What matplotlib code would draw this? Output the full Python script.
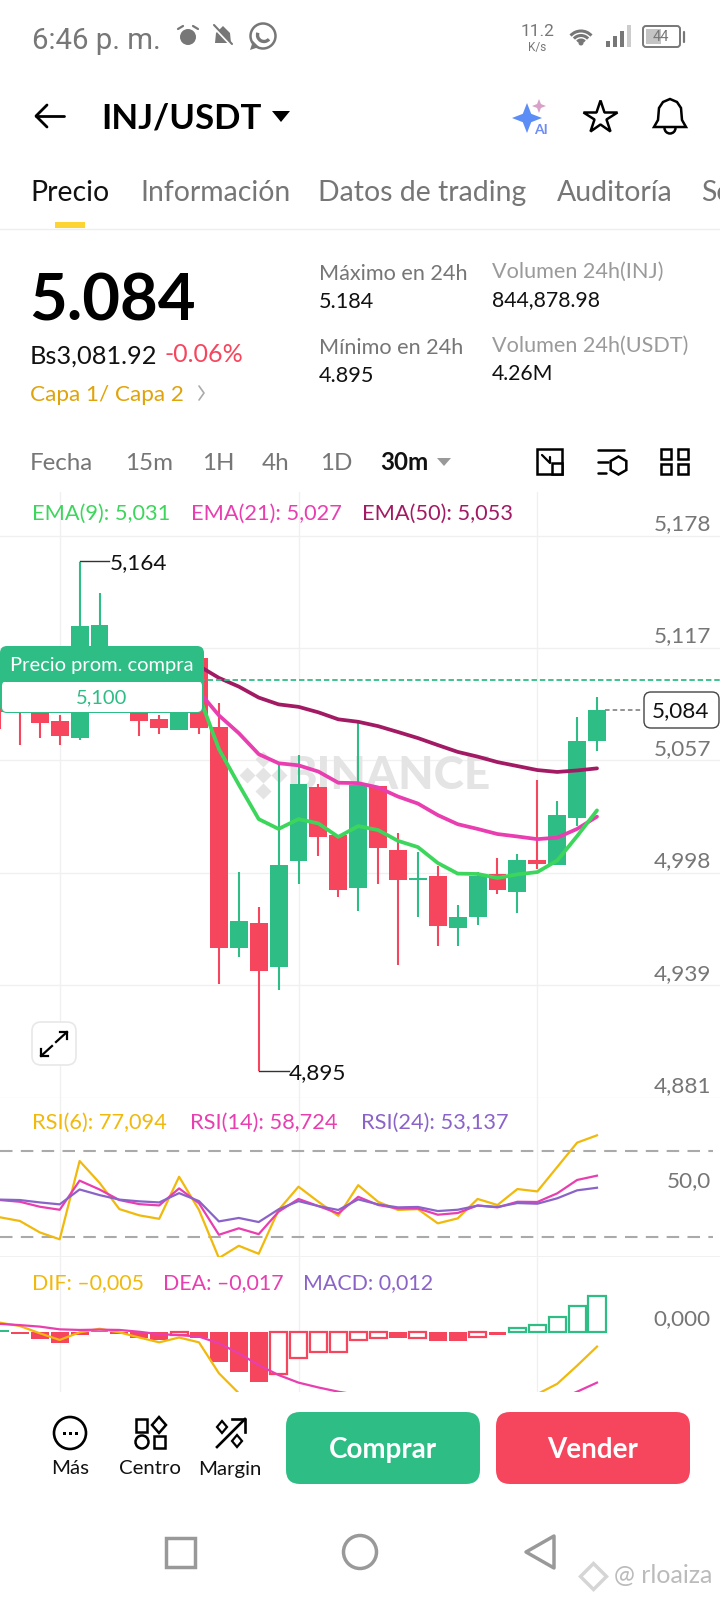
import matplotlib
matplotlib.use("Agg")
import matplotlib.pyplot as plt
from matplotlib.patches import Rectangle, FancyBboxPatch, Circle, Polygon, Arc

plt.rcParams['font.family'] = ['Lato', 'DejaVu Sans']

# candles, one row per 30m slot (the ones behind the "Precio prom." box are guesses)
opens  = [5090, 5092, 5085, 5079.8, 5071, 5103.8, 5093, 5090, 5080.9, 5075.2, 5113.2, 5077.1, 4960.3, 4973.3, 4950.3, 5006.1, 5044.9, 5019.9, 4991.7, 5045.8, 5011.9, 4995.8, 4998.3, 4970.6, 4976.4, 4999.4, 4989.6, 5006.7, 5004, 5029, 5069.2]
closes = [5085, 5088, 5079, 5072.1, 5130.4, 5131, 5097, 5080, 5076.1, 5090, 5076.1, 4960.3, 4974.3, 4948.2, 5004, 5047, 5018.8, 4990.6, 5046.4, 5013, 4995.8, 4997.3, 4971.6, 4976.4, 4998.3, 4990.6, 5006.7, 5004.6, 5030.1, 5069.2, 5085.9]
highs  = [5095, 5096, 5090, 5083, 5164, 5147.7, 5100, 5094, 5083, 5092, 5113.2, 5089.6, 5000, 4981.6, 5056.8, 5062.1, 5047, 5019.9, 5079.6, 5045.8, 5020.9, 5010.9, 5003.6, 4983, 5000.4, 5007.7, 5009.8, 5048.9, 5038, 5081.9, 5092.8]
lows   = [5076, 5067.3, 5071, 5067.3, 5070, 5100, 5090, 5072.1, 5072.9, 5075.2, 5072.9, 4940.9, 4955.5, 4895, 4937.8, 4993.7, 5008.8, 4986.9, 4979.5, 4993.7, 4951.3, 4976.4, 4961.4, 4961.4, 4972.2, 4988.5, 4978.5, 5001.9, 5004, 5024.5, 5064.1]

ema_x = list(range(10, 31))
ema9  = [5093.4, 5065.2, 5046.4, 5028.2, 5023, 5028.2, 5025.9, 5018.8, 5024.5, 5022.4, 5016.7, 5013.4, 5005, 4999.4, 4999.2, 4997.1, 4999, 5000.2, 5006.3, 5019.2, 5032.8]
ema21 = [5095.5, 5083, 5073.6, 5062.5, 5057.7, 5056.6, 5053.3, 5047.4, 5047.2, 5044.9, 5040.1, 5036.4, 5030.3, 5025.5, 5023, 5020.3, 5019, 5017.6, 5018.4, 5023, 5029.5]
ema50 = [5109.1, 5102.8, 5098.2, 5092.4, 5088.8, 5087.5, 5084.6, 5080.9, 5079.6, 5077.3, 5074.2, 5071, 5067.3, 5063.7, 5061.2, 5058.3, 5056.2, 5054.1, 5053.1, 5053.9, 5055]

price_ticks = [5178, 5118.6, 5059.2, 4999.8, 4940.4, 4881]
price_labels = ["5,178", "5,117", "5,057", "4,998", "4,939", "4,881"]
avg_price = 5101.8
last_price = 5085.9

rsi6  = [39.3, 37.6, 32.3, 29.1, 65.4, 55.3, 43.1, 40.2, 38.6, 58.1, 42.7, 20.4, 26.1, 22.4, 42.7, 53.5, 46.5, 40.0, 54.2, 46.5, 42.7, 43.1, 36.5, 38.8, 47.8, 45.0, 52.4, 51.3, 62.6, 73.9, 77.3]
rsi14 = [47.3, 46.5, 44.2, 42.8, 56.3, 52.2, 47.3, 45.4, 44.8, 52.7, 45.8, 31.2, 34.2, 31.5, 41.9, 47.8, 44.5, 41.1, 48.8, 45.0, 43.4, 43.4, 40.5, 41.3, 44.8, 43.9, 46.5, 46.4, 50.4, 56.6, 58.6]
rsi24 = [47.5, 47.3, 46.2, 45.3, 52.2, 49.6, 47.5, 46.7, 46.2, 50.5, 46.8, 37.4, 39.0, 37.1, 43.0, 46.8, 44.5, 42.7, 47.6, 45.3, 43.9, 44.1, 42.2, 42.8, 44.7, 44.1, 45.9, 45.6, 48.1, 51.8, 53.0]

hist = [0.0007, -0.0007, -0.0022, -0.0034, -0.0009, 0.0003, -0.0007, -0.0018, -0.0025, -0.0009, -0.002, -0.0097, -0.013, -0.0163, -0.0138, -0.0086, -0.0066, -0.0066, -0.0025, -0.0018, -0.0019, -0.002, -0.0029, -0.003, -0.0015, -0.001, 0.0014, 0.0025, 0.005, 0.0088, 0.012]
hollow = [0, 0, 0, 0, 0, 0, 0, 0, 0, 1, 0, 0, 0, 0, 1, 1, 1, 1, 1, 1, 0, 1, 0, 0, 1, 0, 1, 1, 1, 1, 1]
dif = [.0032, .0021, -.0003, -.0025, 0, .0012, 0, -.0017, -.0033, -.0017, -.0033, -.0135, -.0201, -.0268, -.0312, -.0334, -.0345, -.0350, -.0334, -.0323, -.0312, -.0306, -.0312, -.0317, -.0301, -.0279, -.0246, -.0204, -.0170, -.0110, -.0047]
dea = [.0028, .0024, .0019, .0010, .0008, .0009, .0008, .0002, -.0006, -.0009, -.0014, -.0036, -.0069, -.0108, -.0141, -.0166, -.0182, -.0196, -.0207, -.0218, -.0227, -.0235, -.0243, -.0251, -.0257, -.0259, -.0257, -.0246, -.0224, -.0196, -.0166]

GREEN = "#2EBD85"
RED = "#F6465D"
YEL = "#F0B90B"
MAG = "#E93EB0"
PUR = "#8A63C9"
GRID = "#F0F0F0"
GREY = "#767676"
SLOT = 19.9
W = 720.0
H = 1600.0

fig = plt.figure(figsize=(7.2, 16), dpi=100, facecolor="white")


def panel(top, bottom, ylim):
    a = fig.add_axes([0, 1 - bottom / H, 1, (bottom - top) / H], zorder=2)
    a.patch.set_alpha(0)
    a.set_xlim(0, W / SLOT)
    a.set_ylim(*ylim)
    a.set_xticks([3, 15, 27])
    a.tick_params(left=False, bottom=False, labelleft=False, labelbottom=False)
    a.grid(True, axis="x", color=GRID, lw=1)
    for s in a.spines.values():
        s.set_visible(False)
    return a


# price panel
ax = panel(492, 1098, (4880.85, 5201))
ax.set_yticks(price_ticks)
ax.grid(True, axis="y", color=GRID, lw=1)
ax.set_axisbelow(True)
# watermark goes under the candles
ax.text(389 / W, 1 - 776 / H, "BINANCE", transform=fig.transFigure, ha="center", va="center", fontsize=33, fontweight="black", color="#E4E4E4", zorder=1)
for dx, dy in ((0, -16), (-16, 0), (16, 0), (0, 16), (0, 0)):
    ax.plot([(263 + dx) / W], [1 - (775 + dy) / H], transform=fig.transFigure, marker="D", ms=8.5, color="#E4E4E4", mec="none", zorder=1)
for i in range(len(opens)):
    c = GREEN if closes[i] >= opens[i] else RED
    ax.vlines(i, lows[i], highs[i], color=c, lw=1.5, zorder=3)
    ax.bar(i, abs(closes[i] - opens[i]), bottom=min(opens[i], closes[i]), width=0.9, color=c, zorder=3)
ax.plot(ema_x, ema50, color="#A21A63", lw=2.7, zorder=4, solid_capstyle="round")
ax.plot(ema_x, ema21, color=MAG, lw=2.7, zorder=4, solid_capstyle="round")
ax.plot(ema_x, ema9, color="#3DD65C", lw=2.7, zorder=4, solid_capstyle="round")
ax.axhline(avg_price, color=GREEN, lw=1.3, ls=(0, (3, 1.6)), zorder=4)
ax.plot([4, 5.5], [5164.4, 5164.4], color="#333333", lw=1)
ax.plot([13, 14.5], [4895, 4895], color="#333333", lw=1)
ax.annotate("5,164", (5.5, 5164.4), xytext=(0, -1), textcoords="offset points", fontsize=16.2, va="center", color="#111111")
ax.annotate("4,895", (14.5, 4895), xytext=(0, -1), textcoords="offset points", fontsize=16.2, va="center", color="#111111")
ax.plot([30.4, 32.3], [last_price, last_price], color="#777777", lw=1.1, ls=(0, (3, 2)))
for v, s in zip(price_ticks, price_labels):
    ax.annotate(s, (711 / SLOT, v), xytext=(0, 1), textcoords="offset points", ha="right", va="bottom", fontsize=16.2, color=GREY)

# RSI
ax2 = panel(1098, 1257, (20.9, 94.6))
ax2.set_yticks([20.9])
ax2.grid(True, axis="y", color=GRID, lw=2)
ax2.plot([0, 713 / SLOT], [70, 70], color="#AAAAAA", lw=1.5, ls=(0, (6, 4)))
ax2.plot([0, 713 / SLOT], [30, 30], color="#AAAAAA", lw=1.5, ls=(0, (6, 4)))
ax2.plot(rsi6, color=YEL, lw=1.6)
ax2.plot(rsi14, color=MAG, lw=1.6)
ax2.plot(rsi24, color=PUR, lw=1.6)
ax2.annotate("50,0", (711 / SLOT, 50), xytext=(0, 2), textcoords="offset points", ha="right", va="bottom", fontsize=16.2, color=GREY)

# MACD
ax3 = panel(1257, 1392, (-.0197, .0249))
for i, v in enumerate(hist):
    c = GREEN if v > 0 else RED
    if hollow[i]:
        ax3.bar(i, v, width=0.86, facecolor="white", edgecolor=c, lw=1.6, zorder=3)
    else:
        ax3.bar(i, v, width=0.9, color=c, zorder=3)
ax3.plot(dif, color=YEL, lw=1.6, zorder=4)
ax3.plot(dea, color=MAG, lw=1.6, zorder=4)
ax3.annotate("0,000", (711 / SLOT, 0), xytext=(0, 2.5), textcoords="offset points", ha="right", va="bottom", fontsize=16.2, color=GREY)

# everything around the chart, in screen pixels
ui = fig.add_axes([0, 0, 1, 1], zorder=5)
ui.set_xlim(0, W)
ui.set_ylim(H, 0)
ui.axis("off")


def txt(x, y, s, size, color="#111111", ha="left", weight="normal", **kw):
    ui.text(x, y + 4, s, fontsize=size, color=color, ha=ha, va="center", fontweight=weight, **kw)


def line(xs, ys, color="black", lw=1.8):
    ui.plot(xs, ys, color=color, lw=lw, solid_capstyle="round", solid_joinstyle="round")


def rbox(x, y, w, h, r, fc="white", ec="none", lw=1, z=6):
    ui.add_patch(FancyBboxPatch((x + r, y + r), w - 2 * r, h - 2 * r, boxstyle="round,pad=%f,rounding_size=%f" % (r, r), fc=fc, ec=ec, lw=lw, zorder=z))


def sparkle(x, y, r, color):
    k = r * 0.28
    ui.add_patch(Polygon([[x, y - r], [x + k, y - k], [x + r, y], [x + k, y + k], [x, y + r], [x - k, y + k], [x - r, y], [x - k, y - k]], fc=color, ec="none"))


# status bar
GS = "#777777"
txt(32, 37, "6:46 p. m.", 21.2, GS, family=["Roboto", "DejaVu Sans"])
ui.add_patch(Circle((188, 37), 8, fc=GS, ec="none"))
line([178, 183], [29, 26], GS, 1.6)
line([198, 193], [29, 26], GS, 1.6)
ui.add_patch(Polygon([[223, 26], [230, 33], [231, 43], [215, 43], [216, 33]], fc=GS, ec="none"))
line([214, 232], [27, 46], "white", 2)
line([214, 232], [25, 44], GS, 1.5)
ui.add_patch(Circle((263, 36), 12.5, fc="none", ec=GS, lw=1.8))
ui.add_patch(Polygon([[250, 50], [253, 41], [259, 47]], fc=GS, ec="none"))
ui.add_patch(Arc((264, 35), 13, 13, theta1=40, theta2=200, color=GS, lw=2.4))
txt(537, 27, "11.2", 12.5, GS, ha="center", family=["Roboto", "DejaVu Sans"])
txt(537, 44, "K/s", 8.5, GS, ha="center", family=["Roboto", "DejaVu Sans"])
for d in (28, 19, 10):
    ui.add_patch(Arc((581, 45), d, d, theta1=222, theta2=318, color=GS, lw=2.2))
ui.add_patch(Circle((581, 43), 2.5, fc=GS, ec="none"))
for k, (bx, bh) in enumerate(zip([606, 613, 620, 627], [6, 11, 16, 22])):
    ui.add_patch(Rectangle((bx, 47 - bh), 3.5, bh, fc=GS if k < 3 else "#CCCCCC", ec="none"))
rbox(643, 26, 37, 21, 3, fc="white", ec=GS, lw=1.4)
ui.add_patch(Rectangle((646, 29), 15, 15, fc="#C4C4C4", ec="none", zorder=7))
ui.text(661, 37, "44", fontsize=10.5, color=GS, ha="center", va="center", zorder=8, family=["Roboto", "DejaVu Sans"])
line([684, 684], [32, 42], GS, 1.6)

# header
line([36, 64], [116, 116], "black", 2)
line([47, 36, 47], [105, 116, 127], "black", 2)
txt(101, 114, "INJ/USDT", 25, "black", weight="bold")
ui.add_patch(Polygon([[272, 111], [290, 111], [281, 122]], fc="black", ec="none"))
sparkle(527, 118, 15, "#5C8DF6")
sparkle(539, 106, 7, "#D9A0C8")
txt(541, 126, "AI", 10, "#6E8CF5", ha="center", weight="bold")
ui.plot([600], [117], marker="*", ms=25, mfc="white", mec="black", mew=1.8)
ui.add_patch(Polygon([[654, 127], [658, 120], [659, 108], [663, 102], [670, 99], [677, 102], [681, 108], [682, 120], [686, 127]], closed=True, fc="white", ec="black", lw=1.8))
ui.add_patch(Arc((670, 128), 11, 11, theta1=0, theta2=180, color="black", lw=1.8))

# tabs
txt(30, 189, "Precio", 20.4, "#111111")
txt(140, 189, "Información", 20.4, GREY)
txt(318, 189, "Datos de trading", 20.4, GREY)
txt(557, 189, "Auditoría", 20.4, GREY)
txt(701, 189, "Se", 20.4, GREY)
ui.add_patch(Rectangle((55, 222), 30, 6, fc="#FCD535", ec="none"))
ui.plot([0, 720], [228.5, 228.5], color="#EEEEEE", lw=1)

# price block
txt(29, 298, "5.084", 47, "black", weight="bold")
txt(30, 352, "Bs3,081.92", 18.3, "#111111")
txt(165, 351, "-0.06%", 18, RED)
txt(30, 391, "Capa 1/ Capa 2", 16.2, "#E0A30A")
line([199, 204, 199], [386, 393, 400], "#AAAAAA", 1.2)
txt(319, 270, "Máximo en 24h", 15.6, GREY)
txt(319, 298, "5.184", 15.6, "#111111")
txt(319, 344, "Mínimo en 24h", 15.6, GREY)
txt(319, 372, "4.895", 15.6, "#111111")
txt(492, 268, "Volumen 24h(INJ)", 15.6, "#9A9A9A")
txt(492, 296, "844,878.98", 15.3, "#111111")
txt(492, 342, "Volumen 24h(USDT)", 15.6, "#9A9A9A")
txt(492, 370, "4.26M", 15.3, "#111111")

# interval row
for x, s in zip([30, 125, 202, 262, 320], ["Fecha", "15m", "1H", "4h", "1D"]):
    txt(x, 459, s, 17.4, GREY)
txt(380, 458, "30m", 17.4, "#111111", weight="bold")
ui.add_patch(Polygon([[437, 458], [451, 458], [444, 466]], fc="#999999", ec="none"))
ui.add_patch(Rectangle((537, 449), 25, 25, fc="none", ec="black", lw=1.8))
ui.add_patch(Rectangle((552, 463), 10, 11, fc="white", ec="black", lw=1.8))
line([542, 550, 550], [455, 463, 457], "black", 1.6)
line([598, 624], [450, 450], "black", 1.8)
line([598, 608], [462, 462], "black", 1.8)
line([598, 606], [473, 473], "black", 1.8)
ui.plot([618], [465], marker="h", ms=13, mfc="white", mec="black", mew=1.8)
ui.add_patch(Circle((618, 465), 2, fc="black", ec="none"))
for bx in (661, 678):
    for by in (449, 464):
        ui.add_patch(Rectangle((bx, by), 10, 10, fc="none", ec="black", lw=1.8))

# indicator legends
txt(32, 510, "EMA(9): 5,031", 15.7, "#3DD65C")
txt(191, 510, "EMA(21): 5,027", 15.7, MAG)
txt(362, 510, "EMA(50): 5,053", 15.7, "#A21A63")
txt(32, 1119, "RSI(6): 77,094", 15.7, YEL)
txt(190, 1119, "RSI(14): 58,724", 15.7, MAG)
txt(361, 1119, "RSI(24): 53,137", 15.7, PUR)
txt(32, 1279, "DIF: –0,005", 15.4, YEL)
txt(163, 1279, "DEA: –0,017", 15.4, MAG)
txt(303, 1279, "MACD: 0,012", 15.4, PUR)

# average price tag
rbox(0, 646, 204, 67, 7, fc=GREEN)
rbox(2, 681, 200, 31, 5, fc="white")
ui.add_patch(Rectangle((2, 679), 200, 3, fc=GREEN, ec="none", zorder=7))
ui.text(102, 666, "Precio prom. compra", fontsize=14.5, color="white", ha="center", va="center", zorder=8)
ui.text(102, 698, "5,100", fontsize=14.5, color=GREEN, ha="center", va="center", zorder=8)

# last price tag
rbox(644, 692, 75, 36, 7, fc="white", ec="#444444", lw=1)
ui.text(681, 711, "5,084", fontsize=16.2, color="#111111", ha="center", va="center", zorder=8)

# expand button
rbox(32, 1022, 44, 43, 9, fc="white", ec="#E8E8E8", lw=1.2)
for xs, ys in (([56, 67, 67, 60], [1042, 1032, 1039, 1032]), ([52, 41, 41, 48], [1046, 1056, 1049, 1056])):
    ui.plot(xs[:2], ys[:2], color="black", lw=1.6, zorder=8)
    ui.plot([xs[2], xs[1], xs[3]], [ys[2], ys[1], ys[3]], color="black", lw=1.6, zorder=8)

# bottom bar
ui.add_patch(Rectangle((0, 1392), 720, 208, fc="white", ec="none", zorder=4))
ui.add_patch(Circle((70, 1433), 16, fc="none", ec="black", lw=1.9, zorder=7))
for dx in (-6, 0, 6):
    ui.add_patch(Rectangle((70 + dx - 1.5, 1431.5), 3, 3, fc="black", ec="none", zorder=7))
ui.add_patch(Rectangle((136, 1419), 11, 13, fc="none", ec="black", lw=1.8, zorder=7))
ui.add_patch(Polygon([[159, 1417], [166, 1425], [159, 1433], [152, 1425]], fc="none", ec="black", lw=1.8, zorder=7))
ui.add_patch(Circle((142, 1442), 6.5, fc="none", ec="black", lw=1.8, zorder=7))
ui.add_patch(Rectangle((154, 1436), 11, 12, fc="none", ec="black", lw=1.8, zorder=7))
ui.plot([217, 245], [1447, 1419], color="black", lw=1.9, zorder=7)
ui.plot([232, 245, 245], [1419, 1419, 1432], color="black", lw=1.9, zorder=7)
ui.add_patch(Polygon([[222, 1421], [227, 1427], [222, 1433], [217, 1427]], fc="none", ec="black", lw=1.6, zorder=7))
ui.add_patch(Polygon([[237, 1435], [242, 1441], [237, 1447], [232, 1441]], fc="none", ec="black", lw=1.6, zorder=7))
for x, s in zip([70, 150, 230], ["Más", "Centro", "Margin"]):
    ui.text(x, 1469, s, fontsize=14.7, color="#111111", ha="center", va="center", zorder=7)
rbox(286, 1412, 194, 72, 14, fc=GREEN)
rbox(496, 1412, 194, 72, 14, fc=RED)
ui.text(383, 1450, "Comprar", fontsize=20, color="white", ha="center", va="center", fontweight="bold", zorder=8)
ui.text(593, 1450, "Vender", fontsize=20, color="white", ha="center", va="center", fontweight="bold", zorder=8)

# navigation bar
NAV = "#999999"
ui.add_patch(Rectangle((166, 1538), 29, 29, fc="none", ec=NAV, lw=2.5, zorder=7))
ui.add_patch(Circle((360, 1552), 16.5, fc="none", ec=NAV, lw=2.5, zorder=7))
ui.add_patch(Polygon([[554, 1536], [554, 1568], [526, 1552]], fc="none", ec=NAV, lw=2.5, joinstyle="round", zorder=7))
ui.plot([593], [1576], marker="D", ms=13, mfc="none", mec="#D5D5D5", mew=2.5, zorder=7)
ui.text(614, 1576, "@ rloaiza", fontsize=18, color="#BBBBBB", ha="left", va="center", zorder=7)

fig.savefig("out.png", dpi=100)
